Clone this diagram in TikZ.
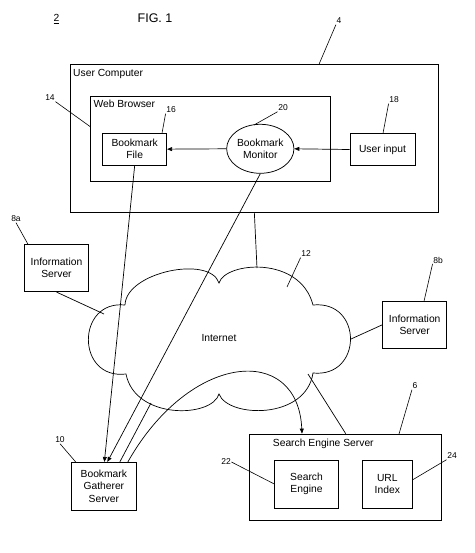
\documentclass[tikz,border=0pt]{standalone}
\usepackage{fontspec}
\setmainfont{Liberation Sans}
\usetikzlibrary{arrows.meta,shapes.geometric}
\begin{document}
\begin{tikzpicture}[x=1pt,y=-1pt,
  box/.style={draw, line width=0.75pt, inner sep=0pt, align=center, font=\fontsize{10.3}{12.3}\selectfont},
  frame/.style={draw, line width=0.75pt, inner sep=0pt},
  txt/.style={inner sep=0pt, font=\fontsize{10.3}{12.3}\selectfont},
  num/.style={inner sep=0.5pt, font=\fontsize{8.5}{10}\selectfont},
  lead/.style={line width=0.6pt},
  conn/.style={line width=0.7pt},
  arr/.style={conn, -{Triangle[length=5pt,width=4pt]}}
]
\useasboundingbox (0,0) rectangle (474,553);

% title
\node[txt] (n2) at (56.5,19) {\underline{2}};
\node[inner sep=0pt, font=\fontsize{12.5}{14}\selectfont] (fig) at (155,18.5) {FIG. 1};

% user computer
\node[frame, minimum width=367.3pt, minimum height=148.2pt] (uc) at (254.35,138.4) {};
\node[txt, anchor=west] (uclbl) at (73,74) {User Computer};
\node[frame, minimum width=240pt, minimum height=84.7pt] (wb) at (210.7,138.65) {};
\node[txt, anchor=west] (wblbl) at (93.3,104) {Web Browser};
\node[box, minimum width=64pt, minimum height=31.7pt] (bf) at (134.7,149.15) {Bookmark\\File};
\node[box, ellipse, minimum width=67.3pt, minimum height=49pt] (bm) at (260.3,148.8) {Bookmark\\Monitor};
\node[box, minimum width=65pt, minimum height=32.4pt] (ui) at (382.5,149.5) {User input};

% servers
\node[box, minimum width=64.4pt, minimum height=47.4pt] (isa) at (56.5,268) {Information\\Server};
\node[box, minimum width=64pt, minimum height=47pt] (isb) at (414.7,324.8) {Information\\Server};
\node[box, minimum width=64.3pt, minimum height=48pt] (bgs) at (103.85,486.3) {Bookmark\\Gatherer\\Server};
\node[frame, minimum width=192pt, minimum height=86.3pt] (ses) at (345.7,477.15) {};
\node[txt] (seslbl) at (323.3,444) {Search Engine Server};
\node[box, minimum width=64.4pt, minimum height=48pt] (se) at (306.5,484) {Search\\Engine};
\node[box, minimum width=50pt, minimum height=48pt] (url) at (387.3,484) {URL\\Index};

% cloud
\draw[conn] (125,305) .. controls (126,272) and (210,255) .. (219,283)
  .. controls (225,262) and (300,255) .. (313,305)
  .. controls (363,300) and (363,378) .. (313,373)
  .. controls (306,420) and (228,418) .. (219,394)
  .. controls (212,418) and (135,420) .. (126,374)
  .. controls (76,380) and (76,300) .. (125,305);
\node[txt] (inet) at (219,338) {Internet};
\coordinate (ctop) at (257,268);
\coordinate (cleft) at (104,314);
\coordinate (cright) at (351,339);
\coordinate (cbl) at (151,403);
\coordinate (cbr) at (308,374);

% connectors
\draw[arr] (ui.west) -- (bm.east);
\draw[arr] (bm.west) -- (bf.east);
\draw[arr] (bf.south) -- ([xshift=0.5pt]bgs.north);
\draw[arr] (bm.south) -- ([xshift=3.5pt]bgs.north);
\draw[conn] (uc.south) -- (ctop);
\draw[conn] (isa.south) -- (cleft);
\draw[conn] (isb.west) -- (cright);
\draw[conn] ([xshift=16pt]bgs.north) -- (cbl);
\draw[conn] (cbr) -- (ses.north);
\draw[arr] ([xshift=24pt]bgs.north) .. controls (190,352) and (298,343) .. ([xshift=-43.7pt]ses.north);

% reference numerals
\node[num] (n4) at (339,21) {4};
\node[num] (n14) at (50,98) {14};
\node[num] (n16) at (171,110) {16};
\node[num] (n20) at (283,108) {20};
\node[num] (n18) at (394,100) {18};
\node[num] (n8a) at (16,219) {8a};
\node[num] (n12) at (306,254) {12};
\node[num] (n8b) at (438,260) {8b};
\node[num] (n10) at (60,440) {10};
\node[num] (n6) at (415,386) {6};
\node[num] (n22) at (226,462) {22};
\node[num] (n24) at (452,456) {24};

\coordinate (e4) at (319,64.3);
\coordinate (e14) at (90.7,127);
\coordinate (e16) at (162,133.3);
\coordinate (e20) at (254,125);
\coordinate (e18) at (383,133.3);
\coordinate (e8a) at (28,244.3);
\coordinate (e12) at (287,287);
\coordinate (e8b) at (424,301.3);
\coordinate (e10) at (76,462.3);
\coordinate (e6) at (399,434);
\coordinate (e22) at (274.3,484);
\coordinate (e24) at (412.3,480);

\draw[lead] (n4.south west) -- (e4);
\draw[lead] (n14.south east) -- (e14);
\draw[lead] (n16.south west) -- (e16);
\draw[lead] (n20.south west) -- (e20);
\draw[lead] (n18.south west) -- (e18);
\draw[lead] (n8a.south) -- (e8a);
\draw[lead] (n12.south west) -- (e12);
\draw[lead] (n8b.south west) -- (e8b);
\draw[lead] (n10.south) -- (e10);
\draw[lead] (n6.south west) -- (e6);
\draw[lead] (n22.east) -- (e22);
\draw[lead] (n24.south west) -- (e24);
\end{tikzpicture}
\end{document}
